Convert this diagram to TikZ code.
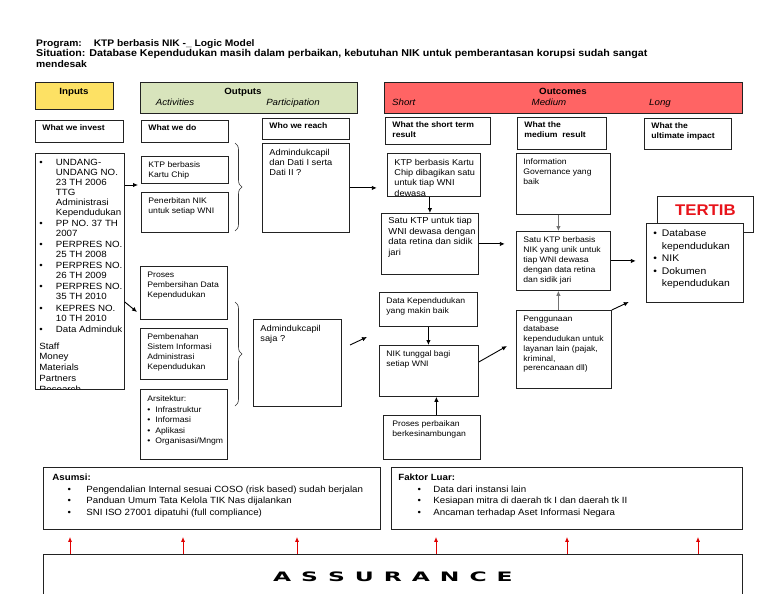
\documentclass[tikz,border=0pt]{standalone}
\usepackage{fontspec}
\setmainfont[FakeStretch=1.08]{Liberation Sans}
\newfontfamily\assfont[FakeStretch=1.8]{DejaVu Sans}
\usetikzlibrary{arrows.meta,decorations.pathreplacing}
\definecolor{inyel}{HTML}{FDE164}
\definecolor{outgrn}{HTML}{D8E4BC}
\definecolor{outred}{HTML}{FF6464}
\definecolor{tertibred}{HTML}{E8141B}
\definecolor{bord}{HTML}{222222}
\definecolor{arred}{HTML}{E00000}
\newcommand\fs[2]{\fontsize{#1}{#2}\selectfont}
\def\bx{7pt}
\def\by{4.6pt}
\newcommand\tbox[7][]{%
  \node[box,inner xsep=\bx,inner ysep=\by,#1] (#2) at (#3,#4) {\makebox[\dimexpr #5pt-#3pt-\bx-\bx\relax][l]{\parbox[t][\dimexpr #6pt-#4pt-\by-\by\relax][t]{\dimexpr #5pt-#3pt+10pt\relax}{\raggedright\strut #7}}};}
\newcommand\bul[2]{\hangindent=#1\hangafter=1\makebox[#1][l]{\textbullet}#2\par}
\begin{document}
\begin{tikzpicture}[x=1pt,y=-1pt,
  box/.style={draw=bord, line width=0.8pt, anchor=north west, fill=white, font=\fs{8}{9.8}},
  hbox/.style={box, font=\bfseries\fs{8}{10}},
  hdr/.style={draw=bord, line width=0.9pt, anchor=north west, inner sep=0},
  hlab/.style={anchor=base, inner sep=0, font=\bfseries\fs{9}{10}},
  hsub/.style={anchor=base, inner sep=0, font=\itshape\fs{9}{10}},
  arr/.style={-{Latex[length=5pt,width=4.5pt]}, line width=0.9pt, draw=black},
  garr/.style={arr, draw=black!55},
  redarr/.style={-{Latex[length=5pt,width=4pt]}, line width=1pt, draw=arred},
  brc/.style={decorate, decoration={brace, amplitude=7pt}, line width=0.6pt, draw=black!80}]
\useasboundingbox (0,0) rectangle (768,594);
\fill[white] (0,0) rectangle (768,594);

% title
\node[anchor=north west, inner sep=0, align=left, font=\bfseries\fs{9.5}{10.5}] (title) at (36,39)
  {Program:\hspace{12pt}KTP berbasis NIK -\_ Logic Model\\{\fs{9.9}{10.5}Situation: Database Kependudukan masih dalam perbaikan, kebutuhan NIK untuk pemberantasan korupsi sudah sangat}\\{\fs{9.6}{10.5}mendesak}};

% header bands
\node[hdr, fill=inyel, minimum width=78pt, minimum height=27pt] (inputs) at (35,82) {};
\node[hdr, fill=outgrn, minimum width=217pt, minimum height=31pt] (outputs) at (140,82) {};
\node[hdr, fill=outred, minimum width=358pt, minimum height=31pt] (outcomes) at (384,82) {};
\node[hlab] (inputs-l) at (74,94.5) {Inputs};
\node[hlab] (outputs-l) at (243,94) {Outputs};
\node[hsub] (act-l) at (175,105.5) {Activities};
\node[hsub] (part-l) at (293,105.5) {Participation};
\node[hlab] (outcomes-l) at (563,94) {Outcomes};
\node[hsub, anchor=base west] (short-l) at (392,105.5) {Short};
\node[hsub] (medium-l) at (549,105.5) {Medium};
\node[hsub] (long-l) at (660,105.5) {Long};

% column headers
\def\by{3pt}
\tbox[hbox]{invest}{35}{120}{123}{142}{What we invest}
\tbox[hbox]{whatdo}{141}{120}{228}{142}{What we do}
\tbox[hbox]{reach}{262}{118}{349}{139}{Who we reach}
\tbox[hbox]{shorth}{385}{117}{490}{144}{What the short term\\result}
\tbox[hbox]{mediumh}{517}{117}{606}{149}{What the\\medium\ \ result}
\tbox[hbox]{ultih}{644}{118}{731}{149}{What the\\ultimate impact}
\def\by{4.6pt}

% inputs list (clipped)
\begin{scope}
\clip (35,153) rectangle (124,389);
\def\bx{4pt}
\tbox[font=\fs{9}{10}]{inlist}{35}{153}{124}{389}{%
\bul{16.5pt}{UNDANG-\newline UNDANG NO.\newline 23 TH 2006\newline TTG\newline Administrasi\newline Kependudukan}\vspace{1.2pt}%
\bul{16.5pt}{PP NO. 37 TH\newline 2007}\vspace{1.2pt}%
\bul{16.5pt}{PERPRES NO.\newline 25 TH 2008}\vspace{1.2pt}%
\bul{16.5pt}{PERPRES NO.\newline 26 TH 2009}\vspace{1.2pt}%
\bul{16.5pt}{PERPRES NO.\newline 35 TH 2010}\vspace{1.2pt}%
\bul{16.5pt}{KEPRES NO.\newline 10 TH 2010}\vspace{1.2pt}%
\bul{16.5pt}{Data Adminduk}\vspace{6pt}%
{\baselineskip=10.8pt Staff\newline Money\newline Materials\newline Partners\newline Research\par}}
\def\bx{7pt}
\end{scope}
\draw[draw=bord, line width=0.8pt] (inlist.north west) rectangle (inlist.south east);

% activities
\tbox{ktp}{141}{156}{228}{183}{KTP berbasis\\Kartu Chip}
\tbox{nik}{141}{192}{228}{232}{Penerbitan NIK\\untuk setiap WNI}
\tbox{bersih}{140}{266}{227}{319}{Proses\\Pembersihan Data\\Kependudukan}
\tbox{benah}{140}{328}{227}{379}{Pembenahan\\Sistem Informasi\\Administrasi\\Kependudukan}
\tbox[font=\fs{8}{10.6}]{arsi}{140}{389}{227}{459}{Arsitektur:\par
\bul{8pt}{Infrastruktur}\bul{8pt}{Informasi}\bul{8pt}{Aplikasi}\bul{8pt}{Organisasi/Mngm}}

% braces
\draw[brc] (235,143) -- (235,231);
\draw[brc] (235,302) -- (235,406);

% participation
\tbox[font=\fs{8.6}{10}]{reach1}{262}{143}{349}{232}{Admindukcapil\\dan Dati I serta\\Dati II ?}
\tbox[font=\fs{8.6}{10}]{reach2}{253}{319}{341}{406}{Admindukcapil\\saja ?}

% short term
\begin{scope}
\clip (387,153) rectangle (480,196);
\tbox[font=\fs{8.5}{10.3}]{s1}{387}{153}{480}{196}{KTP berbasis Kartu\\Chip dibagikan satu\\untuk tiap WNI\\dewasa}
\end{scope}
\draw[draw=bord, line width=0.8pt] (s1.north west) rectangle (s1.south east);
\def\by{3pt}
\tbox[font=\fs{8.7}{10.5}]{s2}{381}{213}{478}{274}{Satu KTP untuk tiap\\WNI dewasa dengan\\data retina dan sidik\\jari}
\def\by{4.6pt}
\tbox{s3}{379}{292}{477}{326}{Data Kependudukan\\yang makin baik}
\tbox{s4}{379}{345}{478}{396}{NIK tunggal bagi\\setiap WNI}
\def\bx{9pt}
\tbox{s5}{383}{415}{480}{459}{Proses perbaikan\\berkesinambungan}
\def\bx{7pt}

% medium
\tbox{m1}{516}{153}{610}{214}{Information\\Governance yang\\baik}
\tbox{m2}{516}{231}{610}{290}{Satu KTP berbasis\\NIK yang unik untuk\\tiap WNI dewasa\\dengan data retina\\dan sidik jari}
\tbox{m3}{516}{310}{611}{388}{Penggunaan\\database\\kependudukan untuk\\layanan lain (pajak,\\kriminal,\\perencanaan dll)}

% long
\node[draw=bord, line width=0.8pt, anchor=north west, inner sep=0, fill=white] (tertib) at (657,196)
  {\parbox[t][36pt][t]{96pt}{\centering\rule{0pt}{19.5pt}\textcolor{tertibred}{\bfseries\fs{15.5}{16}TERTIB}}};
\tbox[font=\fs{9.6}{12.5}]{impact}{646}{223}{743}{302}{%
\bul{8.5pt}{Database\newline kependudukan}\bul{8.5pt}{NIK}\bul{8.5pt}{Dokumen\newline kependudukan}}

% arrows
\coordinate (a1e) at (138,185);
\draw[arr] (inlist.east |- a1e) -- (a1e);
\coordinate (a2s) at (124,302);
\coordinate (a2e) at (137,312);
\draw[arr] (inlist.east |- a2s) -- (a2e);
\draw[arr] (reach1.east) -- ++(27,0);
\coordinate (a4s) at (350,345);
\coordinate (a4e) at (367,337);
\draw[arr] (a4s) -- (a4e);
\draw[arr] (s1.south -| s2.north) -- (s2.north);
\draw[arr] (s3.south) -- (s3.south |- s4.north);
\draw[arr] ([xshift=4.5pt]s5.north) -- ([xshift=4.5pt]s5.north |- s4.south);
\draw[arr] (s2.east) -- ++(26,0);
\coordinate (a9s) at (480,362);
\coordinate (a9e) at (507,346);
\draw[arr] (s4.east |- a9s) -- (a9e);
\draw[garr] ([xshift=-5pt]m1.south) -- ([xshift=-5pt]m1.south |- m2.north);
\draw[garr] ([xshift=-5.5pt]m3.north) -- ([xshift=-5.5pt]m3.north |- m2.south);
\draw[arr] (m2.east) -- ++(25,0);
\draw[arr] (m3.north east) -- ++(17,-8);

% bottom
\def\bx{7pt}
\tbox[font=\fs{9}{11.8}]{asumsi}{43}{467}{380}{529}{\hspace*{2pt}\textbf{Asumsi:}\par
\hspace*{17.3pt}\makebox[18.7pt][l]{\textbullet}Pengendalian Internal sesuai COSO (risk based) sudah berjalan\par
\hspace*{17.3pt}\makebox[18.7pt][l]{\textbullet}Panduan Umum Tata Kelola TIK Nas dijalankan\par
\hspace*{17.3pt}\makebox[18.7pt][l]{\textbullet}SNI ISO 27001 dipatuhi (full compliance)}
\tbox[font=\fs{9}{11.8}]{faktor}{391}{467}{742}{529}{\textbf{Faktor Luar:}\par
\hspace*{19.3pt}\makebox[15.7pt][l]{\textbullet}Data dari instansi lain\par
\hspace*{19.3pt}\makebox[15.7pt][l]{\textbullet}Kesiapan mitra di daerah tk I dan daerah tk II\par
\hspace*{19.3pt}\makebox[15.7pt][l]{\textbullet}Ancaman terhadap Aset Informasi Negara}

\node[draw=bord, line width=0.8pt, anchor=north west, inner sep=0, minimum width=699pt, minimum height=44pt,
  font=\assfont\bfseries\fs{13}{13}] (assur) at (43,554) {\spaceskip=10pt\relax A S S U R A N C E};

\foreach \xx in {70,183,297} \draw[redarr] (\xx,0 |- assur.north) -- ([yshift=-7pt]\xx,0 |- asumsi.south);
\foreach \xx in {436,567,698} \draw[redarr] (\xx,0 |- assur.north) -- ([yshift=-7pt]\xx,0 |- faktor.south);
\end{tikzpicture}
\end{document}
